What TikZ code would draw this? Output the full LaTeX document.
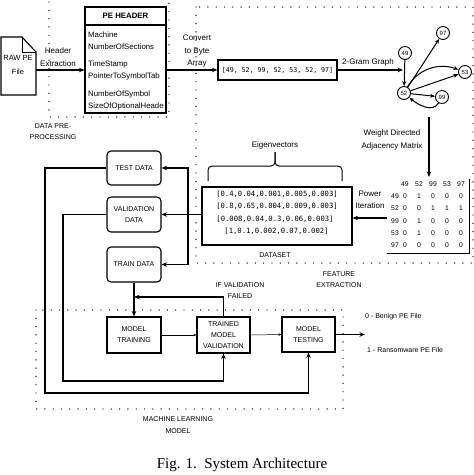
\documentclass[tikz,border=0pt]{standalone}
\usepackage{fontspec}
\setmainfont{Liberation Sans}
\newfontfamily\capfont{Liberation Serif}
\newfontfamily\monofont{DejaVu Sans Mono}
\usetikzlibrary{arrows.meta,calc}
\newcommand{\myfs}[2]{\fontsize{#1}{#2}\selectfont}
\begin{document}
\begin{tikzpicture}[x=1pt,y=-1pt,
  box/.style={draw, line width=1.1pt, inner sep=0pt, align=center, font={\myfs{7}{11}}},
  rbox/.style={box, rounded corners=4pt},
  gn/.style={circle, draw, line width=0.9pt, inner sep=0pt, minimum size=13pt, font={\myfs{6}{6}}},
  arr/.style={-{Stealth[length=5.5pt,width=4.5pt]}, line width=1.1pt},
  garr/.style={-{Stealth[length=5pt,width=4pt]}, line width=1pt},
  tarr/.style={-{Stealth[length=3pt,width=2.5pt]}, line width=0.5pt},
  dots/.style={line width=1.4pt, line cap=round, dash pattern=on 0pt off 8.3pt},
  lbl/.style={align=center, inner sep=0pt, font={\myfs{8}{12.5}}},
  slbl/.style={align=center, inner sep=0pt, font={\myfs{7}{11}}},
  hl/.style={anchor=west, inner sep=0pt, font={\myfs{7.8}{9}}},
  mt/.style={inner sep=0pt, font={\myfs{6.8}{7}}}
]
\useasboundingbox (0,0) rectangle (474,475);

% dotted group frames
\draw[dots] (49,2) -- (49,117) -- (169,117) -- (169,2);
\draw[dots] (196,7) rectangle (473,263);
\draw[dots] (36,310) rectangle (343,409);

% RAW PE file
\node[minimum width=35.5pt, minimum height=58pt, inner sep=0pt] (raw) at (18.3,66) {};
\draw[line width=1.1pt] (1,37) -- (22,37) -- (36,52) -- (36,95) -- (1,95) -- cycle;
\draw[line width=0.7pt] (22,37) -- (22,52) -- (36,52);
\node[align=center, inner sep=0pt, font={\myfs{7.5}{13.5}}] (rawt) at (18,65) {RAW PE\\File};

% PE header
\node[draw, line width=1.1pt, minimum width=81pt, minimum height=106pt, inner sep=0pt] (pehead) at (125.5,60) {};
\draw[line width=1.1pt] (pehead.west |- 0,25) -- (pehead.east |- 0,25);
\node[inner sep=0pt, font={\bfseries\myfs{7.8}{9}}] (pet) at (125.5,16) {PE HEADER};
\node[hl] (h1) at (88,35) {Machine};
\node[hl] (h2) at (88,47) {NumberOfSections};
\node[hl] (h3) at (88,64) {TimeStamp};
\node[hl] (h4) at (88,76) {PointerToSymbolTab};
\node[hl] (h5) at (88,94) {NumberOfSymbol};
\node[hl] (h6) at (88,106) {SizeOfOptionalHeade};

% byte array
\node[draw, line width=1.1pt, minimum width=119pt, minimum height=20pt, inner sep=0pt,
      font={\monofont\myfs{6.6}{8}}] (byte) at (277.5,70) {[49, 52, 99, 52, 53, 52, 97]};

\draw[arr] (raw.east |- byte.west) -- (pehead.west |- byte.west);
\node[lbl] (hext) at (58,57) {Header\\Extraction};
\draw[arr] (pehead.east |- byte.west) -- (byte.west);
\node[lbl] (conv) at (197,51.5) {Convert\\to Byte\\Array};

% graph
\node[gn] (n49) at (405,53) {49};
\node[gn] (n52) at (404,93) {52};
\node[gn] (n97) at (443,33) {97};
\node[gn] (n53) at (465,72) {53};
\node[gn] (n99) at (442,97) {99};
\coordinate (gin) at (403,70);
\draw[arr] (byte.east) -- (gin);
\node[lbl] (gram) at (368,62) {2-Gram Graph};
\draw[garr] (n49) -- (n52);
\draw[garr] (n52) -- (n97);
\draw[garr] (n52) to[out=60, in=160] (n53);
\draw[garr] (n52) -- (n53);
\draw[garr] (n52) -- (n99);
\draw[garr] (n99) to[out=-120, in=-40] (n52);

% weight directed adjacency matrix
\node[lbl, font={\myfs{8}{13}}] (wdam) at (392,139.5) {Weight Directed\\Adjacency Matrix};
\coordinate (wtop) at (429,117);
\coordinate (mtop) at (429,177);
\draw[arr] (wtop) -- (mtop);

\foreach \c/\x in {49/405,52/419,99/433,53/447,97/461}
  \node[mt] (mh\c) at (\x,184) {\c};
\foreach \r/\y/\a/\b/\cc/\d/\e in {49/196/0/1/0/0/0, 52/208/0/0/1/1/1, 99/221/0/1/0/0/0, 53/233/0/1/0/0/0, 97/245/0/0/0/0/0}{
  \node[mt] (mr\r) at (395,\y) {\r};
  \node[mt] (m\r-1) at (405,\y) {\a};
  \node[mt] (m\r-2) at (419,\y) {\b};
  \node[mt] (m\r-3) at (433,\y) {\cc};
  \node[mt] (m\r-4) at (447,\y) {\d};
  \node[mt] (m\r-5) at (461,\y) {\e};
}
\draw[line width=0.8pt] (387,253) -- (469.5,253) -- (469.5,179);

% dataset
\node[draw, line width=1.1pt, minimum width=150pt, minimum height=58pt, inner sep=0pt] (dataset) at (277,216) {};
\node[inner sep=0pt, font={\monofont\myfs{7.2}{8}}] (d1) at (277,194) {[0.4,0.04,0.001,0.005,0.003]};
\node[inner sep=0pt, font={\monofont\myfs{7.2}{8}}] (d2) at (277,206.5) {[0.8,0.65,0.004,0.009,0.003]};
\node[inner sep=0pt, font={\monofont\myfs{7.2}{8}}] (d3) at (275,219) {[0.008,0.04,0.3,0.06,0.003]};
\node[inner sep=0pt, font={\monofont\myfs{7.2}{8}}] (d4) at (276.5,231.5) {[1,0.1,0.002,0.07,0.002]};
\node[slbl] (dslbl) at (275,255) {DATASET};
\node[lbl] (eig) at (275,145) {Eigenvectors};
\draw[line width=1pt, rounded corners=4pt] (208,181) -- (208,166) -- (275,166) -- (275,152);
\draw[line width=1pt, rounded corners=4pt] (342,181) -- (342,166) -- (275,166) -- (275,152);

\coordinate (pistart) at (387,218);
\draw[arr] (pistart) -- (dataset.east |- pistart);
\node[lbl, font={\myfs{8}{12}}] (pow) at (370,200) {Power\\Iteration};

\node[slbl] (fe) at (339,280) {FEATURE\\EXTRACTION};
\node[slbl] (dpp) at (53,132) {DATA PRE-\\PROCESSING};

% data split
\node[rbox, minimum width=54pt, minimum height=34pt] (test) at (134,168) {TEST DATA};
\node[rbox, minimum width=54pt, minimum height=35pt] (valid) at (134,214.5) {VALIDATION\\DATA};
\node[rbox, minimum width=54pt, minimum height=35pt] (train) at (134,264.5) {TRAIN DATA};

\draw[arr] (dataset.west |- valid.east) -- (valid.east);
\coordinate (jn) at (188,214.5);
\draw[arr] (jn) |- (test.east);
\draw[arr] (jn) |- (train.east);

% model boxes
\node[box, minimum width=54pt, minimum height=36pt] (mtrain) at (134,335) {MODEL\\TRAINING};
\node[box, minimum width=53pt, minimum height=36pt] (mval) at (223.5,335) {TRAINED\\MODEL\\VALIDATION};
\node[box, minimum width=53pt, minimum height=35pt] (mtest) at (308.5,334.5) {MODEL\\TESTING};

\draw[arr] (train.south) -- (mtrain.north);
\coordinate (ff) at (134,297);
\draw[arr] (mval.north) |- (ff);
\node[slbl] (ifv) at (240,290.5) {IF VALIDATION\\FAILED};

\draw[tarr] (mtrain.east) -- (mval.west);
\draw[tarr] (mval.east) -- (mtest.west);
\coordinate (outc) at (365,334.5);
\draw[arr] (mtest.east) -- (outc);
\node[anchor=west, inner sep=0pt, font={\myfs{7}{8}}] (o0) at (365,317) {0 - Benign PE File};
\node[anchor=west, inner sep=0pt, font={\myfs{7}{8}}] (o1) at (367,350) {1 - Ransomware PE File};

\draw[arr] (test.west) -| (45,393) -| (mtest.south);
\draw[arr] (valid.west) -| (63,381) -| (mval.south);

\node[slbl, font={\myfs{7}{12}}] (mlm) at (178,425) {MACHINE LEARNING\\MODEL};

\node[inner sep=0pt, font={\capfont\myfs{15}{16}}] (cap) at (242,465) {Fig. 1.\ \ System Architecture};
\end{tikzpicture}
\end{document}
